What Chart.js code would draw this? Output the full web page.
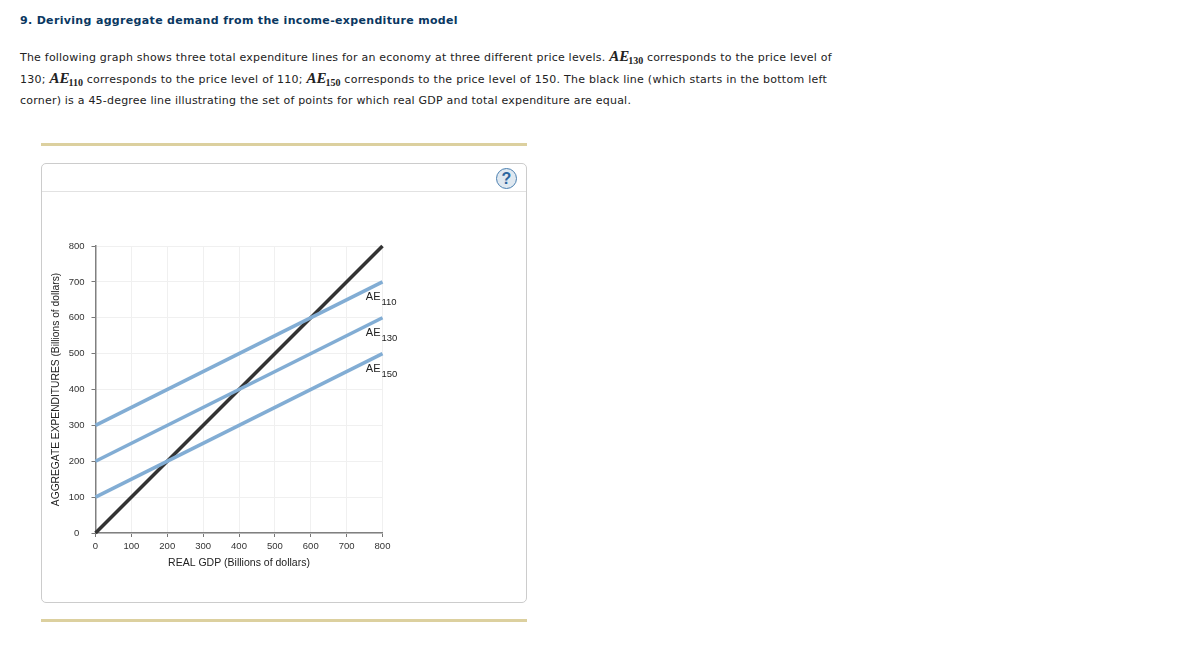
<!DOCTYPE html>
<html>
<head>
<meta charset="utf-8">
<script src="https://cdn.jsdelivr.net/npm/chart.js@4"></script>
<style>
  body { margin: 0; background: #fff; width: 1177px; height: 648px; overflow: hidden; position: relative; font-family: "DejaVu Sans", sans-serif; font-size: 11px; color: #222; }
  h1 { position: absolute; left: 20px; top: 14px; margin: 0; font-size: 11px; line-height: 14px; font-weight: bold; letter-spacing: 0.33px; color: #0a3761; }
  p { position: absolute; left: 20px; top: 47px; margin: 0; width: 830px; line-height: 21.5px; letter-spacing: 0.21px; white-space: nowrap; }
  p span { letter-spacing: 0.26px; }
  p i { font-family: "Liberation Serif", serif; font-weight: bold; font-size: 15px; line-height: 0; letter-spacing: 0; }
  p sub { font-size: 10px; font-style: normal; font-family: "Liberation Serif", serif; font-weight: bold; line-height: 0; letter-spacing: 0; margin-left: -1px; }
  .rule { position: absolute; left: 41px; width: 486px; height: 3px; background: #dcd09f; }
  .panel { position: absolute; left: 41px; top: 163px; width: 484px; height: 438px; border: 1px solid #ccc; border-radius: 5px; }
  .panel .head { height: 27px; border-bottom: 1px solid #e2e2e2; }
  .help { position: absolute; left: 496px; top: 168px; width: 19px; height: 19px; border: 1px solid #4a7fb0; border-radius: 50%; background: #dfe8f0; color: #2c659e; font: bold 16px/19px "Liberation Sans", sans-serif; text-align: center; }
  canvas { position: absolute; left: 42px; top: 192px; }
</style>
</head>
<body>
<h1>9. Deriving aggregate demand from the income-expenditure model</h1>
<p>The following graph shows three total expenditure lines for an economy at three different price levels. <i>AE</i><sub>130</sub> corresponds to the price level of<br>
<span>130; <i>AE</i><sub>110</sub> corresponds to the price level of 110; <i>AE</i><sub>150</sub> corresponds to the price level of 150. The black line (which starts in the bottom left</span><br>
corner) is a 45-degree line illustrating the set of points for which real GDP and total expenditure are equal.</p>
<div class="rule" style="top:143px"></div>
<div class="panel"><div class="head"></div></div>
<div class="help">?</div>
<div class="rule" style="top:619px"></div>
<canvas id="aeChart" width="484" height="408"></canvas>
<script>
const realGdp = [0, 800];
const line45 = [0, 800];
const ae110 = [300, 700];
const ae130 = [200, 600];
const ae150 = [100, 500];
const subLabels = ['110', '130', '150'];
const axisMax = 800;
const tickStep = 100;

const toPoints = ys => ys.map((y, i) => ({ x: realGdp[i], y: y }));
const blue = '#82add4';
const fontName = '"Liberation Sans", Arial, sans-serif';

// AE labels hang just under the right end of each blue line
const endLabels = {
  id: 'endLabels',
  afterDatasetsDraw(chart) {
    const ctx = chart.ctx;
    subLabels.forEach((sub, i) => {
      const end = chart.getDatasetMeta(i).data[1];
      ctx.save();
      ctx.fillStyle = '#222';
      ctx.textBaseline = 'middle';
      ctx.font = '11px ' + fontName;
      ctx.textAlign = 'right';
      ctx.fillText('AE', end.x - 2, end.y + 15);
      ctx.font = '9.5px ' + fontName;
      ctx.textAlign = 'left';
      ctx.fillText(sub, end.x - 1, end.y + 20.5);
      ctx.restore();
    });
  }
};

new Chart(document.getElementById('aeChart'), {
  type: 'line',
  data: {
    datasets: [
      { label: 'AE110', data: toPoints(ae110), borderColor: blue },
      { label: 'AE130', data: toPoints(ae130), borderColor: blue },
      { label: 'AE150', data: toPoints(ae150), borderColor: blue },
      { label: '45-degree', data: toPoints(line45), borderColor: '#333333' }
    ]
  },
  options: {
    responsive: false,
    devicePixelRatio: 1,
    animation: false,
    clip: false,
    layout: { padding: { left: 8, top: 54, right: 143.5, bottom: 31 } },
    elements: { point: { radius: 0 }, line: { borderWidth: 3.5, tension: 0 } },
    plugins: { legend: { display: false }, tooltip: { enabled: false } },
    scales: {
      x: {
        type: 'linear', min: 0, max: axisMax,
        ticks: { stepSize: tickStep, autoSkip: false, maxRotation: 0, padding: 4, color: '#333', font: { family: fontName, size: 9.5 } },
        grid: { color: '#f0f0f0', tickColor: '#777', tickLength: 4 },
        border: { color: '#808080', width: 1.5 },
        title: { display: true, text: 'REAL GDP (Billions of dollars)', color: '#222', padding: { top: 2, bottom: 0 }, font: { family: fontName, size: 10.5 } },
        afterFit(scale) { scale.height = 36; }
      },
      y: {
        min: 0, max: axisMax,
        ticks: { stepSize: tickStep, autoSkip: false, padding: 7, crossAlign: 'center', color: '#333', font: { family: fontName, size: 9.5 } },
        grid: { color: '#f0f0f0', tickColor: '#777', tickLength: 4 },
        border: { color: '#808080', width: 1.5 },
        title: { display: true, text: 'AGGREGATE EXPENDITURES (Billions of dollars)', color: '#222', padding: 0, font: { family: fontName, size: 10.25 } },
        afterFit(scale) { scale.width = 45.5; }
      }
    }
  },
  plugins: [endLabels]
});
</script>
</body>
</html>
